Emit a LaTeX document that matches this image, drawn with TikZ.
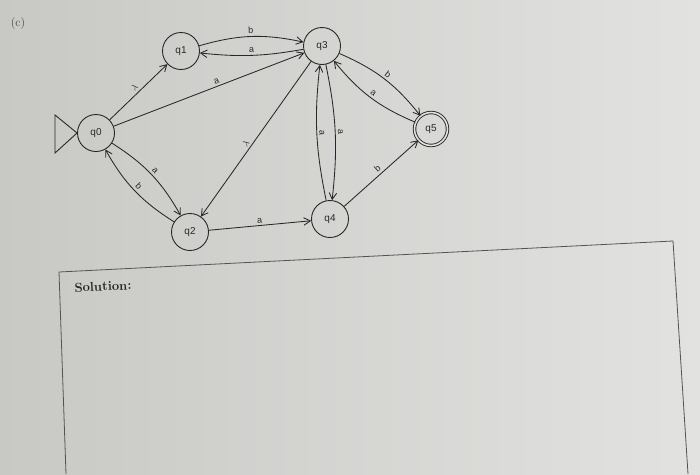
\documentclass[tikz,border=0pt]{standalone}
\usepackage{fontspec}
\newfontfamily\labfont{Liberation Sans}
\usetikzlibrary{arrows.meta}
\definecolor{bgL}{RGB}{200,200,197}
\definecolor{bgR}{RGB}{226,226,224}
\definecolor{ink}{RGB}{40,40,40}
\tikzset{
  st/.style={circle, draw=ink, line width=0.9pt, minimum size=37pt, inner sep=0pt, font=\labfont\fontsize{10}{11}\selectfont, text=ink},
  acc/.style={st, double=bgR, double distance=1.6pt, minimum size=33pt},
  tr/.style={draw=ink, line width=0.85pt, -{Straight Barb[length=6.5pt,width=7.5pt]}},
  lb/.style={auto, sloped, inner sep=2.2pt, font=\labfont\fontsize{9}{10}\selectfont, text=ink}
}
\begin{document}
\begin{tikzpicture}[x=1pt,y=-1pt]
\useasboundingbox (0,0) rectangle (700,474);
\shade[left color=bgL, right color=bgR] (0,0) rectangle (700,474);
% paper box
\draw[ink!80, line width=0.8pt] (66,474) -- (59,272) -- (673,241) -- (688,474);
\node[font=\fontsize{12}{14}\selectfont, text=ink!85] (c) at (18,24) {(c)};
\node[font=\bfseries\fontsize{13}{15}\selectfont, text=ink!90!black, rotate=2.9, anchor=west] (sol) at (71,288) {Solution:};
% states
\node[st] (q0) at (96,133) {q0};
\node[st] (q1) at (181,51) {q1};
\node[st] (q3) at (322,46) {q3};
\node[st] (q2) at (190,232) {q2};
\node[st] (q4) at (330,219) {q4};
\node[acc] (q5) at (431,129) {q5};
% start marker
\coordinate (s1) at (55,115);
\coordinate (s2) at (55,153);
\draw[ink, line width=0.9pt] (s1) -- (s2) -- (q0.west) -- cycle;
% transitions
\draw[tr] (q0) -- node[lb] {$\lambda$} (q1);
\draw[tr] (q0) -- node[lb, pos=0.55] {a} (q3);
\draw[tr] (q1) to[bend left=14] node[lb] {b} (q3);
\draw[tr] (q3) to[bend left=8] node[lb] {a} (q1);
\draw[tr] (q3) -- node[lb, pos=0.55] {$\lambda$} (q2);
\draw[tr] (q2) -- node[lb] {a} (q4);
\draw[tr] (q3) to[bend left=9] node[lb] {a} (q4);
\draw[tr] (q4) to[bend left=9] node[lb] {a} (q3);
\draw[tr] (q3) to[bend left=14] node[lb] {b} (q5);
\draw[tr] (q5) to[bend left=14] node[lb] {a} (q3);
\draw[tr] (q4) -- node[lb] {b} (q5);
\draw[tr] (q0) to[bend left=14] node[lb] {a} (q2);
\draw[tr] (q2) to[bend left=14] node[lb] {b} (q0);
\end{tikzpicture}
\end{document}
